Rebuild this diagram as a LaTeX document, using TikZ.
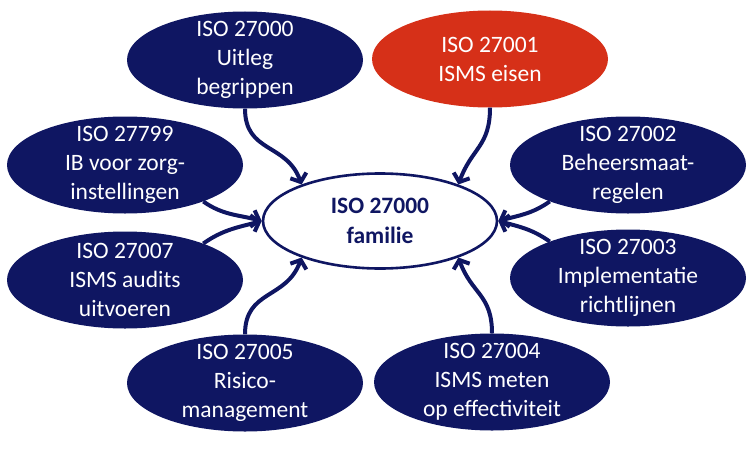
\documentclass[tikz,border=0pt]{standalone}
\usepackage{fontspec}
\setmainfont{Carlito}
\usetikzlibrary{arrows.meta,shapes.geometric}
\definecolor{isoblue}{RGB}{15,22,98}
\definecolor{isored}{RGB}{214,48,24}

\begin{document}
\begin{tikzpicture}[x=1pt, y=1pt,
bubble/.style={ellipse, fill=isoblue, minimum width=236pt,
  minimum height=97pt, inner sep=0pt},
btext/.style={text=white, align=center,
  font=\fontsize{23.5}{29}\selectfont},
core/.style={ellipse, draw=isoblue, line width=2.6pt, fill=white,
  minimum width=234pt, minimum height=95pt, inner sep=0pt},
ctext/.style={text=isoblue, align=center,
  font=\fontsize{23.5}{30}\selectfont\bfseries},
link/.style={draw=isoblue, line width=4pt,
  -{Straight Barb[length=7pt, width=17pt]}}]
\useasboundingbox (0,0) rectangle (754,451);

\node[core, label={[ctext]center:ISO 27000\\familie}] (fam) at (380,230) {};

\node[bubble, label={[btext]center:ISO 27000\\Uitleg\\begrippen}] (uitleg) at (245,391) {};
\node[bubble, fill=isored, label={[btext]center:ISO 27001\\ISMS eisen}] (eisen) at (490,392) {};
\node[bubble, label={[btext]center:ISO 27799\\IB voor zorg-\\instellingen}] (zorg) at (125,286) {};
\node[bubble, label={[btext]center:ISO 27002\\Beheersmaat-\\regelen}] (beheer) at (628,286) {};
\node[bubble, label={[btext]center:ISO 27007\\ISMS audits\\uitvoeren}] (audits) at (125,171) {};
\node[bubble, label={[btext]center:ISO 27003\\Implementatie\\richtlijnen}] (impl) at (628,173) {};
\node[bubble, label={[btext]center:ISO 27005\\Risico-\\management}] (risico) at (245,68) {};
\node[bubble, label={[btext]center:ISO 27004\\ISMS meten\\op effectiviteit}] (meten) at (492,69) {};

\path[link]
(uitleg.south) edge[out=-90, in=110, looseness=1.2] (fam.155)
(eisen.south) edge[out=-90, in=70, looseness=1.2] (fam.25)
(zorg.-25) edge[out=-35, in=165] (fam.west)
(beheer.205) edge[out=215, in=15] (fam.east)
(audits.25) edge[out=35, in=195] (fam.west)
(impl.155) edge[out=145, in=-15] (fam.east)
(risico.north) edge[out=90, in=-110, looseness=1.2] (fam.205)
(meten.north) edge[out=90, in=-70, looseness=1.2] (fam.-25);
\end{tikzpicture}
\end{document}
